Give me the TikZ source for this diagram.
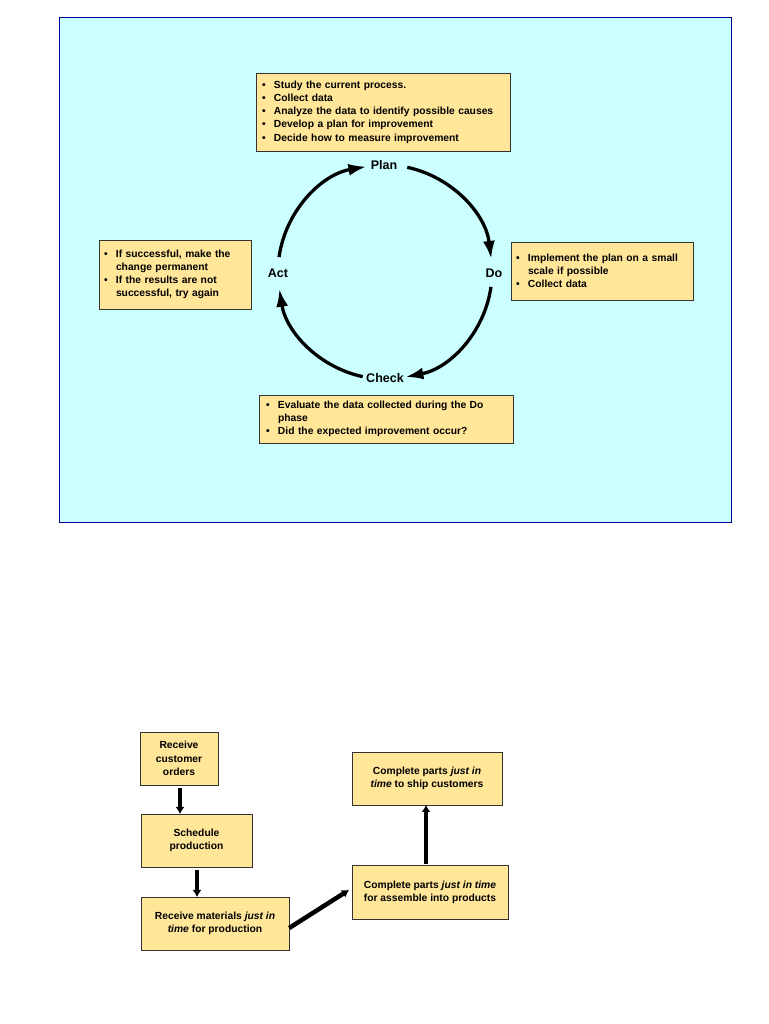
\documentclass[tikz,border=0pt]{standalone}
\usepackage{fontspec}
\setmainfont{Liberation Sans}
\usetikzlibrary{arrows.meta}
\definecolor{panel}{HTML}{CCFFFF}
\definecolor{boxc}{HTML}{FFE699}
\newcommand{\bi}{\makebox[12pt][l]{\textbullet}}
\newcommand{\ci}{\hspace*{12pt}}
\begin{document}
\begin{tikzpicture}[x=1pt,y=1pt,
  box/.style={draw=black!80,fill=boxc,font=\bfseries\fontsize{10.3}{13.2}\selectfont,inner sep=0pt},
  lst/.style={box,align=left},
  lbl/.style={font=\bfseries\fontsize{12.5}{14}\selectfont},
  cyc/.style={line width=3.3pt,-{Latex[length=18pt,width=12pt]}},
  flow/.style={line width=4.5pt,-{Latex[length=7pt,width=9pt]}},
  ctr/.style={box,align=center}]
\useasboundingbox (0,0) rectangle (768,1024);
\fill[white] (0,0) rectangle (768,1024);
\draw[draw=blue!60!black,fill=panel] (59,1007) rectangle (731,502);
% cycle
\coordinate (c) at (385,752);
\node[lbl] (plan) at (384,859) {Plan};
\node[lbl] (do) at (494,751) {Do};
\node[lbl] (check) at (385,646) {Check};
\node[lbl] (act) at (278,751) {Act};
\draw[cyc] ([shift={(172:107)}]c) arc[start angle=172,end angle=100,radius=107];
\draw[cyc] ([shift={(78:107)}]c) arc[start angle=78,end angle=7,radius=107];
\draw[cyc] ([shift={(-8:107)}]c) arc[start angle=-8,end angle=-79,radius=107];
\draw[cyc] ([shift={(-102:107)}]c) arc[start angle=-102,end angle=-171,radius=107];
% lists
\node[lst,minimum width=254pt,minimum height=78pt,text width=242pt] (pb) at (383,912) {\bi Study the current process.\\\bi Collect data\\\bi Analyze the data to identify possible causes\\\bi Develop a plan for improvement\\\bi Decide how to measure improvement};
\node[lst,minimum width=182pt,minimum height=58pt,text width=172pt] (db) at (602,753) {\bi Implement the plan on a small\\\ci scale if possible\\\bi Collect data};
\node[lst,minimum width=152pt,minimum height=69pt,text width=142pt] (ab) at (175,749.5) {\bi If successful, make the\\\ci change permanent\\\bi If the results are not\\\ci successful, try again};
\node[lst,minimum width=254pt,minimum height=48pt,text width=240pt] (cb) at (386,605) {\bi Evaluate the data collected during the Do\\\ci phase\\\bi Did the expected improvement occur?};
% flow
\node[ctr,minimum width=78pt,minimum height=53pt] (b1) at (179,265.5) {Receive\\customer\\orders};
\node[ctr,minimum width=111pt,minimum height=53pt] (b2) at (196.5,183.5) {Schedule\\production};
\node[ctr,minimum width=148pt,minimum height=53pt] (b3) at (215,100.5) {Receive materials \textit{just in}\\\textit{time} for production};
\node[ctr,minimum width=156pt,minimum height=54pt] (b4) at (430,132) {Complete parts \textit{just in time}\\for assemble into products};
\node[ctr,minimum width=150pt,minimum height=53pt] (b5) at (427,245.5) {Complete parts \textit{just in}\\\textit{time} to ship customers};
\draw[flow] (180,236) -- (180,210);
\draw[flow] (197,154) -- (197,127);
\draw[flow] (b3.east|-0,96) -- (349,134);
\draw[flow] (426,160) -- (426,219);
\end{tikzpicture}
\end{document}
